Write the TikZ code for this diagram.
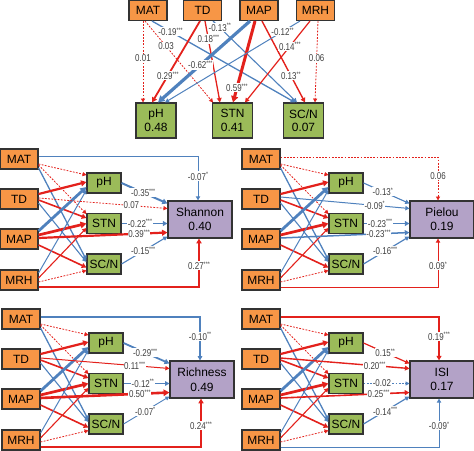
\documentclass[tikz,border=0pt]{standalone}
\usepackage{fontspec}
\setmainfont{Liberation Sans}
\newfontfamily\narrowf[FakeStretch=0.8]{Liberation Sans}
\usetikzlibrary{arrows.meta,calc}
\definecolor{orgc}{HTML}{F79646}
\definecolor{grnc}{HTML}{9BBB59}
\definecolor{prpc}{HTML}{B3A2C7}
\definecolor{bordc}{HTML}{333333}
\definecolor{redc}{HTML}{E3211C}
\definecolor{bluc}{HTML}{4F81BD}
\definecolor{labc}{HTML}{404040}
\newcommand\sig[1]{\raisebox{0.35em}{\fontsize{6.5}{7}\selectfont #1}}
\newcommand\mkpanel[5]{%
\begin{scope}[shift={(#2,#3)}]
\node[exo] (#1MAT) at (19,10) {MAT};
\node[exo] (#1TD) at (19,50) {TD};
\node[exo] (#1MAP) at (19,90) {MAP};
\node[exo] (#1MRH) at (19,131) {MRH};
\node[med] (#1pH) at (104,34) {pH};
\node[med] (#1STN) at (104,74.5) {STN};
\node[med] (#1SCN) at (104,115) {SC/N};
\node[resp] (#1R) at (200,70.5) {#4\\#5};
\end{scope}
\draw[pdot] ($(#1MAT.east)+(0,5)$) -- ($(#1pH.west)+(0,-8)$);
\draw[pdot] ($(#1MAT.east)+(0,6)$) -- ($(#1STN.west)+(0,-9.5)$);
\draw[negl=1.3bp] ($(#1MAT.east)+(0,9)$) -- ($(#1SCN.west)+(0,-4)$);
\draw[posl=2.2bp] ($(#1TD.east)+(0,-5)$) -- ($(#1pH.west)+(0,-1)$);
\draw[posl=1.6bp] ($(#1TD.east)+(0,1)$) -- ($(#1STN.west)+(0,-5.5)$);
\draw[negl=1.1bp] ($(#1TD.east)+(0,4)$) -- ($(#1SCN.west)+(0,-2)$);
\draw[negl=2.8bp] ($(#1MAP.east)+(0,-8)$) -- ($(#1pH.west)+(0,4)$);
\draw[posl=2.7bp] ($(#1MAP.east)+(0,-4)$) -- ($(#1STN.west)+(0,0)$);
\draw[posl=1.6bp] ($(#1MAP.east)+(0,6)$) -- ($(#1SCN.west)+(0,3.5)$);
\draw[negl=1bp] ($(#1MRH.east)+(0,-7)$) -- ($(#1pH.west)+(0,7)$);
\draw[posl=1.1bp] ($(#1MRH.east)+(0,-2)$) -- ($(#1STN.west)+(0,4.5)$);
\draw[pdot] ($(#1MRH.east)+(0,2)$) -- ($(#1SCN.west)+(0,6.5)$);
}
\begin{document}
\begin{tikzpicture}[x=1bp,y=-1bp,
 box/.style={draw=bordc, line width=1.1bp, inner sep=0pt, align=center},
 exo/.style={box, fill=orgc, minimum width=38bp, minimum height=20bp, font=\fontsize{12}{12}\selectfont},
 med/.style={box, fill=grnc, minimum width=34bp, minimum height=20bp, font=\fontsize{12}{12}\selectfont},
 topmed/.style={box, fill=grnc, minimum width=40bp, minimum height=35bp, font=\fontsize{12}{13.5}\selectfont},
 resp/.style={box, fill=prpc, minimum width=64bp, minimum height=37bp, font=\fontsize{12}{14.5}\selectfont},
 arrowhd/.style={-{Triangle[length=3bp 1.1, width=3bp 1.3]}},
 posl/.style={draw=redc, line width=#1, arrowhd},
 negl/.style={draw=bluc, line width=#1, arrowhd},
 pdot/.style={draw=redc, line width=0.8bp, dash pattern=on 1.8bp off 1.4bp, arrowhd},
 ndot/.style={draw=bluc, line width=0.8bp, dash pattern=on 1.8bp off 1.4bp, arrowhd},
 coef/.style={fill=white, inner sep=0.6bp, text=labc, font=\narrowf\fontsize{10}{11}\selectfont},
]
\useasboundingbox (0,0) rectangle (474,451);

% ---------- top panel ----------
\node[exo] (tMAT) at (148,10.5) {MAT};
\node[exo] (tTD) at (202.5,10.5) {TD};
\node[exo] (tMAP) at (259,10.5) {MAP};
\node[exo] (tMRH) at (315.5,10.5) {MRH};
\node[topmed] (tpH) at (156,120.5) {pH\\0.48};
\node[topmed] (tSTN) at (232.5,120.5) {STN\\0.41};
\node[topmed] (tSCN) at (303.5,120.5) {SC/N\\0.07};

\draw[pdot] ($(tMAT.south)+(-5,0)$) -- ($(tpH.north)+(-13,0)$) node[coef,pos=0.46]{0.01};
\draw[pdot] ($(tMAT.south)+(-3,0)$) -- ($(tSTN.north)+(-19.5,0)$) node[coef,pos=0.31]{0.03};
\draw[negl=1.3bp] ($(tMAT.south)+(4,0)$) -- ($(tSCN.north)+(-8.5,0)$) node[coef,pos=0.13]{-0.19\sig{***}};
\draw[posl=1.8bp] ($(tTD.south)+(-2.5,0)$) -- ($(tpH.north)+(-4,0)$) node[coef,pos=0.67]{0.29\sig{***}};
\draw[posl=1.3bp] ($(tTD.south)+(2.5,0)$) -- ($(tSTN.north)+(-12.5,0)$) node[coef,pos=0.22]{0.18\sig{***}};
\draw[negl=1.1bp] ($(tTD.south)+(10.5,0)$) -- ($(tSCN.north)+(-6.5,0)$) node[coef,pos=0.08]{-0.13\sig{**}};
\draw[negl=3.2bp] ($(tMAP.south)+(-9,0)$) -- ($(tpH.north)+(2,0)$) node[coef,pos=0.54]{-0.62\sig{***}};
\draw[posl=3bp] ($(tMAP.south)+(-4,0)$) -- ($(tSTN.north)+(0.5,0)$) node[coef,pos=0.82]{0.59\sig{***}};
\draw[posl=1.4bp] ($(tMAP.south)+(3,0)$) -- ($(tSCN.north)+(1.5,0)$) node[coef,pos=0.67]{0.13\sig{**}};
\draw[negl=1bp] ($(tMRH.south)+(-15.5,0)$) -- ($(tpH.north)+(9,0)$) node[coef,pos=0.13]{-0.12\sig{**}};
\draw[posl=1.2bp] ($(tMRH.south)+(-5.5,0)$) -- ($(tSTN.north)+(12.5,0)$) node[coef,pos=0.31]{0.14\sig{***}};
\draw[pdot] ($(tMRH.south)+(2.5,0)$) -- ($(tSCN.north)+(11.5,0)$) node[coef,pos=0.46]{0.06};

% ---------- Shannon ----------
\mkpanel{S}{0}{149}{Shannon}{0.40}
\draw[negl=1bp] ($(SMAT.east)+(0,-2)$) -| ($(SR.north)+(-2,0)$) node[coef,pos=0.72]{-0.07\sig{*}};
\draw[pdot] ($(STD.east)+(0,-1)$) -- ($(SR.west)+(0,-11)$) node[coef,pos=0.72]{0.07};
\draw[posl=2.2bp] ($(SMAP.east)+(0,-1)$) -- ($(SR.west)+(0,13)$) node[coef,pos=0.78]{0.39\sig{***}};
\draw[posl=1.7bp] ($(SMRH.east)+(0,7)$) -| ($(SR.south)+(-1,0)$) node[coef,pos=0.72]{0.27\sig{***}};
\draw[negl=2bp] (SpH.east) -- ($(SR.west)+(0,-16)$) node[coef,pos=0.47]{-0.35\sig{***}};
\draw[negl=1.5bp] (SSTN.east) -- ($(SR.west)+(0,4)$) node[coef,pos=0.4]{-0.22\sig{***}};
\draw[negl=1.1bp] (SSCN.east) -- ($(SR.west)+(0,17)$) node[coef,pos=0.47]{-0.15\sig{***}};

% ---------- Pielou ----------
\mkpanel{P}{242}{149}{Pielou}{0.19}
\draw[pdot] ($(PMAT.east)+(0,-2)$) -| ($(PR.north)+(-4,0)$) node[coef,pos=0.72]{0.06};
\draw[negl=1bp] ($(PTD.east)+(0,-2)$) -- ($(PR.west)+(0,-11)$) node[coef,pos=0.73]{-0.09\sig{*}};
\draw[negl=1.5bp] ($(PMAP.east)+(0,-1)$) -- ($(PR.west)+(0,13)$) node[coef,pos=0.76]{-0.23\sig{***}};
\draw[posl=1bp] ($(PMRH.east)+(0,7)$) -| ($(PR.south)+(-4,0)$) node[coef,pos=0.72]{0.09\sig{*}};
\draw[negl=1.1bp] (PpH.east) -- ($(PR.west)+(0,-16)$) node[coef,pos=0.42]{-0.13\sig{*}};
\draw[negl=1.5bp] (PSTN.east) -- ($(PR.west)+(0,4)$) node[coef,pos=0.36]{-0.23\sig{***}};
\draw[negl=1.2bp] (PSCN.east) -- ($(PR.west)+(0,17)$) node[coef,pos=0.47]{-0.16\sig{***}};

% ---------- Richness ----------
\mkpanel{C}{2}{309}{Richness}{0.49}
\draw[negl=1.1bp] ($(CMAT.east)+(0,-2)$) -| ($(CR.north)+(-2,0)$) node[coef,pos=0.72]{-0.10\sig{**}};
\draw[posl=1bp] ($(CTD.east)+(0,-1)$) -- ($(CR.west)+(0,-11)$) node[coef,pos=0.73]{0.11\sig{***}};
\draw[posl=2.6bp] ($(CMAP.east)+(0,-1)$) -- ($(CR.west)+(0,13)$) node[coef,pos=0.77]{0.50\sig{***}};
\draw[posl=1.6bp] ($(CMRH.east)+(0,7)$) -| ($(CR.south)+(-1,0)$) node[coef,pos=0.72]{0.24\sig{***}};
\draw[negl=1.8bp] (CpH.east) -- ($(CR.west)+(0,-16)$) node[coef,pos=0.47]{-0.29\sig{***}};
\draw[negl=1.1bp] (CSTN.east) -- ($(CR.west)+(0,4)$) node[coef,pos=0.42]{-0.12\sig{**}};
\draw[negl=0.9bp] (CSCN.east) -- ($(CR.west)+(0,17)$) node[coef,pos=0.47]{-0.07\sig{*}};

% ---------- ISI ----------
\mkpanel{I}{242}{309}{ISI}{0.17}
\draw[posl=1.4bp] ($(IMAT.east)+(0,-2)$) -| ($(IR.north)+(-3,0)$) node[coef,pos=0.72]{0.19\sig{***}};
\draw[posl=1.4bp] ($(ITD.east)+(0,-1)$) -- ($(IR.west)+(0,-11)$) node[coef,pos=0.73]{0.20\sig{***}};
\draw[posl=1.6bp] ($(IMAP.east)+(0,-1)$) -- ($(IR.west)+(0,13)$) node[coef,pos=0.76]{0.25\sig{***}};
\draw[negl=1bp] ($(IMRH.east)+(0,7)$) -| ($(IR.south)+(-3,0)$) node[coef,pos=0.72]{-0.09\sig{*}};
\draw[posl=1.2bp] (IpH.east) -- ($(IR.west)+(0,-16)$) node[coef,pos=0.47]{0.15\sig{**}};
\draw[ndot] (ISTN.east) -- ($(IR.west)+(0,4)$) node[coef,pos=0.4]{-0.02};
\draw[negl=1.2bp] (ISCN.east) -- ($(IR.west)+(0,17)$) node[coef,pos=0.47]{-0.14\sig{***}};
\end{tikzpicture}
\end{document}
